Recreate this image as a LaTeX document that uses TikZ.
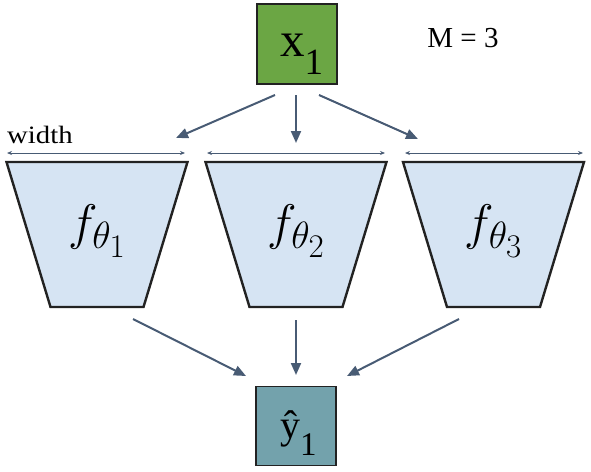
\RequirePackage{fix-cm}
\documentclass[tikz,border=0pt]{standalone}
\usepackage{fontspec}
\setmainfont{Liberation Serif}
\usetikzlibrary{arrows.meta}
\DeclareMathSizes{50}{50}{38}{33}
\definecolor{boxgreen}{HTML}{6BA644}
\definecolor{boxteal}{HTML}{73A2AC}
\definecolor{trapfill}{HTML}{D6E4F3}
\definecolor{arrcol}{HTML}{485B74}
\definecolor{edgecol}{HTML}{222222}
\begin{document}
\begin{tikzpicture}[x=1pt,y=-1pt,
  sqbox/.style={draw=edgecol,line width=1.6pt,minimum width=80pt,minimum height=80pt,inner sep=0pt},
  trap/.style={draw=edgecol,line width=2.4pt,fill=trapfill,line join=miter},
  arr/.style={draw=arrcol,line width=2pt,-{Triangle[length=12pt,width=10pt]}},
  warr/.style={draw=arrcol,line width=0.8pt,{Stealth[length=5pt,width=4pt]}-{Stealth[length=5pt,width=4pt]}},
  lab/.style={inner sep=0pt},
  flab/.style={inner sep=0pt,font=\fontsize{50}{50}\selectfont}]
\useasboundingbox (0,0) rectangle (591,471);
% input box
\node[sqbox,fill=boxgreen] (xbox) at (297,44) {};
\node[lab,anchor=base west] (xlab) at (280,56) {\fontsize{49}{49}\selectfont x\raisebox{-18pt}{\fontsize{37}{37}\selectfont 1}};
\node[lab,anchor=base] (mlab) at (463,47) {\fontsize{29}{29}\selectfont M = 3};
% output box
\node[sqbox,fill=boxteal,minimum height=79pt] (ybox) at (296,426) {};
\node[lab,anchor=base west] (ylab) at (280,438) {\fontsize{40}{40}\selectfont ŷ\raisebox{-17pt}{\fontsize{33}{33}\selectfont 1}};
% trapezoids
\draw[trap] (6.5,162) -- (187.5,162) -- (143.5,307) -- (50.5,307) -- cycle;
\draw[trap] (205.5,162) -- (386.5,162) -- (342.5,307) -- (249.5,307) -- cycle;
\draw[trap] (403,162) -- (584,162) -- (540,307) -- (447,307) -- cycle;
\node[flab] (f1) at (97,231) {$f_{\theta_1}$};
\node[flab] (f2) at (296,231) {$f_{\theta_2}$};
\node[flab] (f3) at (493.5,231) {$f_{\theta_3}$};
% width label and arrows
\node[lab,anchor=base west] (wlab) at (7,143) {\fontsize{25}{25}\selectfont\scalebox{1.15}[1]{width}};
\coordinate (w1a) at (7,153); \coordinate (w1b) at (185,153);
\coordinate (w2a) at (207,153); \coordinate (w2b) at (385,153);
\coordinate (w3a) at (405,153); \coordinate (w3b) at (583,153);
\draw[warr] (w1a) -- (w1b);
\draw[warr] (w2a) -- (w2b);
\draw[warr] (w3a) -- (w3b);
% arrows from input
\coordinate (s1) at (275,95); \coordinate (e1) at (176,138);
\coordinate (s2) at (296,95); \coordinate (e2) at (296,143);
\coordinate (s3) at (319,95); \coordinate (e3) at (418,139);
\draw[arr] (s1) -- (e1);
\draw[arr] (s2) -- (e2);
\draw[arr] (s3) -- (e3);
% arrows to output
\coordinate (b1) at (133,319); \coordinate (c1) at (246,376);
\coordinate (b2) at (296,320); \coordinate (c2) at (296,375);
\coordinate (b3) at (459,319); \coordinate (c3) at (347,376);
\draw[arr] (b1) -- (c1);
\draw[arr] (b2) -- (c2);
\draw[arr] (b3) -- (c3);
\end{tikzpicture}
\end{document}
